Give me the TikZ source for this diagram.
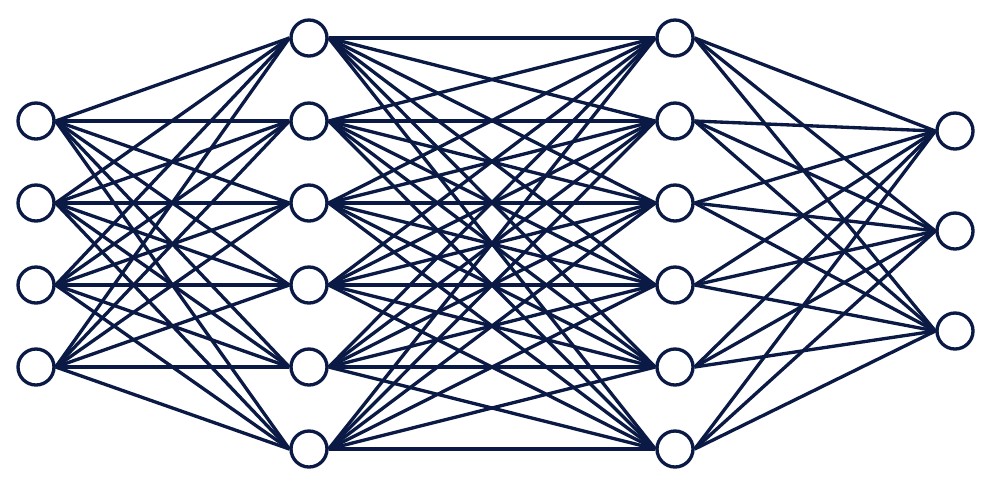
\documentclass[tikz,border=0pt]{standalone}
\usepackage{xcolor}
\definecolor{netblue}{HTML}{0B1A45}

\begin{document}
\begin{tikzpicture}[x=0.02cm,y=-0.02cm,line width=1.9pt,draw=netblue,
  neuron/.style={circle,draw=netblue,fill=white,inner sep=0pt,minimum size=0.72cm}]
        \useasboundingbox (0,0) rectangle (994,488);
        %各层神经元
        \foreach \i/\y in{1/121,2/203,3/285,4/367}{
        \node[neuron] (in\i) at (36,\y){};
        }
        \foreach \i/\y in{1/38,2/121,3/203,4/285,5/367,6/449}{
        \node[neuron] (ha\i) at (309,\y){};
        \node[neuron] (hb\i) at (675,\y){};
        }
        \foreach \i/\y in{1/131,2/231,3/331}{
        \node[neuron] (out\i) at (955,\y){};
        }
        %连线
        \foreach \i in{1,...,4}{
        \foreach \j in{1,...,6}{
        \draw[netblue](in\i.east)--(ha\j.west);
        }}
        \foreach \i in{1,...,6}{
        \foreach \j in{1,...,6}{
        \draw[netblue](ha\i.east)--(hb\j.west);
        }}
        \foreach \i in{1,...,6}{
        \foreach \j in{1,...,3}{
        \draw[netblue](hb\i.east)--(out\j.west);
        }}
    \end{tikzpicture}
\end{document}
